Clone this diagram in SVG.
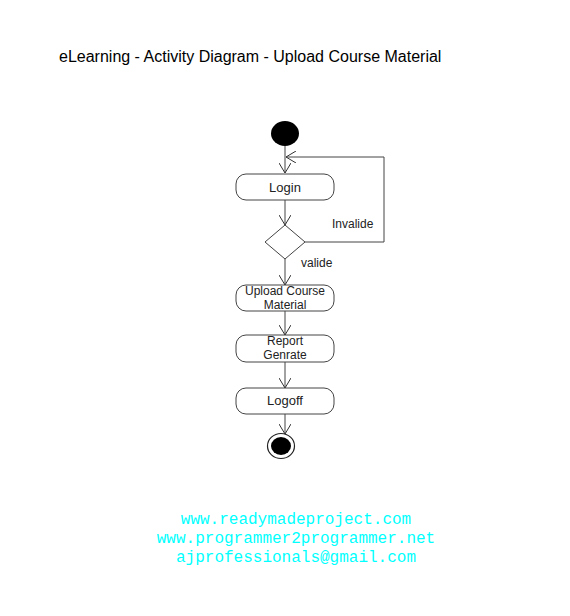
<svg xmlns="http://www.w3.org/2000/svg" width="570" height="616" viewBox="0 0 570 616">
<defs>
<marker id="open" markerWidth="12" markerHeight="12" refX="10" refY="6" orient="auto" markerUnits="userSpaceOnUse">
<path d="M0,0 L10,6 L0,12" fill="none" stroke="#333" stroke-width="1"/>
</marker>
</defs>
<style>
.box{fill:#fff;stroke:#444;stroke-width:1}
.lbl{font-family:"Liberation Sans",Arial,sans-serif;font-size:13px;fill:#222;text-anchor:middle}
.lbl2{font-family:"Liberation Sans",Arial,sans-serif;font-size:12px;fill:#222;text-anchor:middle}
.elbl{font-family:"Liberation Sans",Arial,sans-serif;font-size:12px;fill:#222}
.edge{fill:none;stroke:#444;stroke-width:1}
.web{font-family:"Liberation Mono","Courier New",monospace;font-size:16px;fill:#00ffff;text-anchor:middle}
</style>
<rect width="570" height="616" fill="#fff"/>
<text x="59" y="62" font-family="Liberation Sans,Arial,sans-serif" font-size="16" fill="#000">eLearning - Activity Diagram - Upload Course Material</text>

<g id="connectors">
<path class="edge" d="M285,146 L285,173" marker-end="url(#open)"/>
<path class="edge" d="M285,200 L285,225" marker-end="url(#open)"/>
<path class="edge" d="M305,242 L384,242 L384,157 L286,157" marker-end="url(#open)"/>
<path class="edge" d="M285,259 L285,285" marker-end="url(#open)"/>
<path class="edge" d="M285,311 L285,335" marker-end="url(#open)"/>
<path class="edge" d="M285,362 L285,388" marker-end="url(#open)"/>
<path class="edge" d="M285,414 L285,434" marker-end="url(#open)"/>
<text class="elbl" x="332" y="228">Invalide</text>
<text class="elbl" x="301" y="267">valide</text>
</g>

<g id="start"><ellipse cx="285" cy="133.5" rx="14" ry="12.5" fill="#000"/></g>
<g id="login"><rect class="box" x="236" y="174" width="98" height="26" rx="10"/><text class="lbl" x="285" y="192">Login</text></g>
<g id="decision"><path class="box" d="M285,225 L305,242 L285,259 L265,242 Z"/></g>
<g id="upload"><rect class="box" x="236" y="285" width="98" height="26" rx="10"/><text class="lbl2" x="285" y="295">Upload Course</text><text class="lbl2" x="285" y="308.5">Material</text></g>
<g id="report"><rect class="box" x="236" y="335" width="98" height="27" rx="10"/><text class="lbl2" x="285" y="345">Report</text><text class="lbl2" x="285" y="358.5">Genrate</text></g>
<g id="logoff"><rect class="box" x="236" y="388" width="98" height="26" rx="10"/><text class="lbl" x="285" y="405">Logoff</text></g>
<g id="end"><ellipse cx="281" cy="446" rx="13.5" ry="12.5" fill="#fff" stroke="#222" stroke-width="1.2"/><ellipse cx="281" cy="446" rx="10" ry="9" fill="#000"/></g>

<text class="web" x="296" y="524">www.readymadeproject.com</text>
<text class="web" x="296" y="543">www.programmer2programmer.net</text>
<text class="web" x="296" y="562">ajprofessionals@gmail.com</text>
</svg>
